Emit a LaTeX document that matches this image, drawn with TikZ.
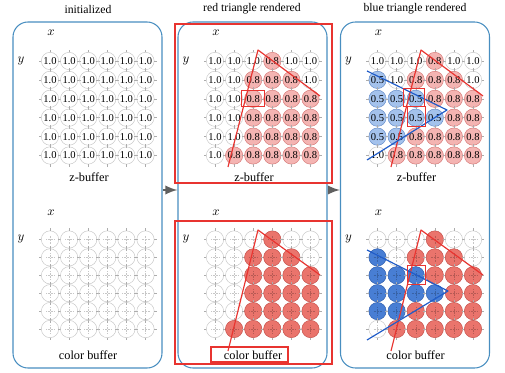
\documentclass[tikz,border=0pt]{standalone}
\usepackage{fontspec}
\setmainfont{Liberation Serif}
\usepackage{xcolor}
\usetikzlibrary{arrows}

\definecolor{panelblue}{RGB}{72,142,192}
\definecolor{redline}{RGB}{232,52,48}
\definecolor{blueline}{RGB}{32,92,200}
\definecolor{lred}{RGB}{244,180,178}
\definecolor{lredline}{RGB}{214,120,118}
\definecolor{lblue}{RGB}{164,194,236}
\definecolor{lblueline}{RGB}{98,138,200}
\definecolor{sred}{RGB}{234,116,108}
\definecolor{sredline}{RGB}{196,78,72}
\definecolor{sblue}{RGB}{72,126,212}
\definecolor{sblueline}{RGB}{46,92,172}

\tikzset{
  panel/.style={draw=panelblue, line width=0.9pt, rounded corners=0.45cm,
    minimum width=4.47cm, minimum height=10.38cm},
  hilite/.style={draw=redline, line width=0.9pt},
  cell/.style={circle, draw=gray!45, line width=0.4pt, minimum size=0.52cm,
    inner sep=0pt, font=\fontsize{9}{10}\selectfont},
  ccell/.style={cell, path picture={\draw[black, draw opacity=0.22, densely dotted, line width=0.3pt]
      ([xshift=-0.12cm]path picture bounding box.center) -- ([xshift=0.12cm]path picture bounding box.center)
      ([yshift=-0.12cm]path picture bounding box.center) -- ([yshift=0.12cm]path picture bounding box.center);}},
  zval/.code={\ifdim#1pt<0.6pt\pgfkeysalso{fill=lblue,draw=lblueline}\else
    \ifdim#1pt<0.9pt\pgfkeysalso{fill=lred,draw=lredline}\fi\fi},
  cval/.code={\ifdim#1pt<0.6pt\pgfkeysalso{fill=sblue,draw=sblueline}\else
    \ifdim#1pt<0.9pt\pgfkeysalso{fill=sred,draw=sredline}\fi\fi},
  tick/.style={gray!65, line width=0.35pt},
  title/.style={font=\fontsize{10}{12}\selectfont},
  label/.style={font=\fontsize{10.5}{12}\selectfont},
  tri/.style={line width=1pt, line join=round}
}

\def\dataA{{1.0,1.0,1.0,1.0,1.0,1.0},{1.0,1.0,1.0,1.0,1.0,1.0},{1.0,1.0,1.0,1.0,1.0,1.0},
  {1.0,1.0,1.0,1.0,1.0,1.0},{1.0,1.0,1.0,1.0,1.0,1.0},{1.0,1.0,1.0,1.0,1.0,1.0}}
\def\dataB{{1.0,1.0,1.0,0.8,1.0,1.0},{1.0,1.0,0.8,0.8,0.8,1.0},{1.0,1.0,0.8,0.8,0.8,0.8},
  {1.0,1.0,0.8,0.8,0.8,0.8},{1.0,1.0,0.8,0.8,0.8,0.8},{1.0,0.8,0.8,0.8,0.8,0.8}}
\def\dataC{{1.0,1.0,1.0,0.8,1.0,1.0},{0.5,1.0,0.8,0.8,0.8,1.0},{0.5,0.5,0.5,0.8,0.8,0.8},
  {0.5,0.5,0.5,0.5,0.8,0.8},{0.5,0.5,0.8,0.8,0.8,0.8},{1.0,0.8,0.8,0.8,0.8,0.8}}

\begin{document}
\begin{tikzpicture}[x=0.03cm,y=-0.03cm]
\path[use as bounding box] (0,0) rectangle (505,373);

% panels and titles
\node[panel] (p1) at (87.5,195) {};
\node[panel] (p2) at (252.5,195) {};
\node[panel] (p3) at (415,195) {};
\node[title] (t1) at (88,9) {initialized};
\node[title] (t2) at (252,9) {red triangle rendered};
\node[title] (t3) at (415,9) {blue triangle rendered};
\draw[->,>=latex, gray!75!black, line width=2.5pt] ([yshift=0.15cm]p1.east) -- ([yshift=0.15cm]p2.west);
\draw[->,>=latex, gray!75!black, line width=2.5pt] ([yshift=0.15cm]p2.east) -- ([yshift=0.15cm]p3.west);

% buffers
\foreach \p/\dx/\dat in {1/0/A,2/165/B,3/327.5/C} {
  \node[label] (zx\p) at (51+\dx,33) {$x$};
  \node[label] (zy\p) at (21+\dx,61) {$y$};
  \node[label] (cx\p) at (51+\dx,213) {$x$};
  \node[label] (cy\p) at (21+\dx,239) {$y$};
  \node[label] (zl\p) at (89+\dx,177) {z-buffer};
  \node[label] (cl\p) at (88+\dx,355) {color buffer};
  \expandafter\let\expandafter\curdata\csname data\dat\endcsname
  \foreach \row [count=\r] in \curdata {
    \foreach \v [count=\c] in \row {
      \node[cell, zval=\v] (z\p-\r-\c) at ({50+\dx+19.1*(\c-1)},{61+18.9*(\r-1)}) {\v};
      \node[ccell, cval=\v] (c\p-\r-\c) at ({50+\dx+19.1*(\c-1)},{239.5+17.9*(\r-1)}) {};
      \foreach \n in {z,c} {
        \draw[tick] (\n\p-\r-\c.north) -- ++(0,-2.5);
        \draw[tick] (\n\p-\r-\c.south) -- ++(0,2.5);
        \draw[tick] (\n\p-\r-\c.west) -- ++(-2.5,0);
        \draw[tick] (\n\p-\r-\c.east) -- ++(2.5,0);
      }
    }
  }
}

% red triangle
\foreach \p/\dx in {2/0,3/163} {
  \coordinate (rza\p) at (258+\dx,50);
  \coordinate (rzb\p) at (320+\dx,96);
  \coordinate (rzc\p) at (228+\dx,167);
  \coordinate (rca\p) at (258+\dx,230);
  \coordinate (rcb\p) at (320+\dx,275);
  \coordinate (rcc\p) at (228+\dx,351);
  \draw[tri, redline] (rzc\p) -- (rza\p) -- (rzb\p);
  \draw[tri, redline] (rcc\p) -- (rca\p) -- (rcb\p);
}

% blue triangle
\coordinate (bza) at (367,71);
\coordinate (bzb) at (447,110);
\coordinate (bzc) at (367,160);
\coordinate (bca) at (367,250);
\coordinate (bcb) at (448,291);
\coordinate (bcc) at (367,340);
\draw[tri, blueline] (bza) -- (bzb) -- (bzc);
\draw[tri, blueline] (bca) -- (bcb) -- (bcc);

% highlights
\draw[hilite] (175,24) rectangle (332,183);
\draw[hilite] (175,221) rectangle (332,364);
\draw[hilite] ([shift={(-42,-8)}]cl2.center) rectangle ([shift={(35,7)}]cl2.center);
\draw[hilite] ([shift={(-12,-8)}]z2-3-3.center) rectangle ([shift={(11,8)}]z2-3-3.center);
\draw[hilite] ([shift={(-12,-10)}]z3-3-3.center) rectangle ([shift={(9,8)}]z3-3-3.center);
\draw[hilite] ([shift={(-8,-11)}]z3-4-3.center) rectangle ([shift={(10,9)}]z3-4-3.center);
\draw[hilite] ([shift={(-8,-10)}]c3-3-3.center) rectangle ([shift={(10,9)}]c3-3-3.center);
\end{tikzpicture}
\end{document}
